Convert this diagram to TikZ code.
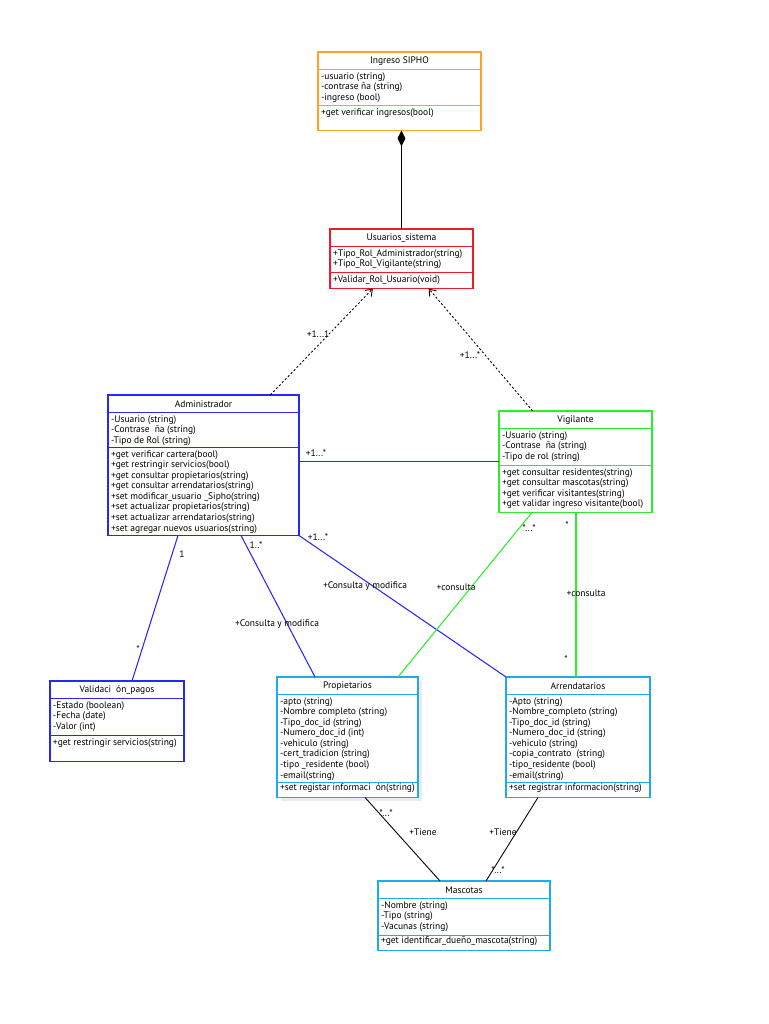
\documentclass[tikz,border=0pt]{standalone}
\usepackage{fontspec}
\setmainfont{PT Sans}
\usetikzlibrary{positioning,calc,arrows.meta,backgrounds}

\definecolor{sipho}{RGB}{255,160,40}
\definecolor{rojo}{RGB}{235,30,40}
\definecolor{azul}{RGB}{40,40,245}
\definecolor{verde}{RGB}{40,240,40}
\definecolor{celeste}{RGB}{30,170,240}

% compartment text: width, height, lines
\newcommand{\cpart}[3]{\parbox[c][\dimexpr#2-0.12cm\relax][t]{\dimexpr#1-0.12cm\relax}{\raggedright#3}}

\begin{document}
\begin{tikzpicture}
        [x=0.02cm,y=-0.02cm,
        every node/.style={font=\fontsize{5.4pt}{6pt}\selectfont},
        titulo/.style={draw=#1,line width=0.8pt,fill=white,inner sep=0pt,outer sep=0pt,minimum height=0.35cm},
        parte/.style={draw=#1,line width=0.8pt,fill=white,inner xsep=0.06cm,inner ysep=0.06cm,outer sep=0pt},
        lbl/.style={inner sep=0pt},
        assoc/.style={line width=0.6pt},
        depend/.style={line width=0.5pt,dash pattern=on 1.2pt off 1.2pt,-{Straight Barb[length=3.5pt,width=5pt]}}]
        \useasboundingbox (0,0) rectangle (768,1024);

        % Ingreso SIPHO
        \node[titulo=sipho,minimum width=3.26cm,anchor=north west] (ing-t) at (318,52) {Ingreso SIPHO};
        \node[parte=sipho,below=0pt of ing-t] (ing-a) {\cpart{3.26cm}{0.72cm}{-usuario (string)\\-contrase ña (string)\\-ingreso (bool)}};
        \node[parte=sipho,below=0pt of ing-a] (ing-m) {\cpart{3.26cm}{0.50cm}{+get verificar ingresos(bool)}};

        % Usuarios_sistema
        \node[titulo=rojo,minimum width=2.86cm,anchor=north west] (us-t) at (330,229) {Usuarios\_sistema};
        \node[parte=rojo,below=0pt of us-t] (us-a) {\cpart{2.86cm}{0.52cm}{+Tipo\_Rol\_Administrador(string)\\+Tipo\_Rol\_Vigilante(string)}};
        \node[parte=rojo,below=0pt of us-a] (us-m) {\cpart{2.86cm}{0.32cm}{+Validar\_Rol\_Usuario(void)}};

        % Administrador
        \node[titulo=azul,minimum width=3.82cm,anchor=north west] (adm-t) at (108,395) {Administrador};
        \node[parte=azul,below=0pt of adm-t] (adm-a) {\cpart{3.82cm}{0.70cm}{-Usuario (string)\\-Contrase\ \ ña (string)\\-Tipo de Rol (string)}};
        \node[parte=azul,below=0pt of adm-a] (adm-m) {\cpart{3.82cm}{1.76cm}{+get verificar cartera(bool)\\+get restringir servicios(bool)\\+get consultar propietarios(string)\\+get consultar arrendatarios(string)\\+set modificar\_usuario \_Sipho(string)\\+set actualizar propietarios(string)\\+set actualizar arrendatarios(string)\\+set agregar nuevos usuarios(string)}};

        % Vigilante
        \node[titulo=verde,minimum width=3.06cm,anchor=north west] (vig-t) at (499,411) {Vigilante};
        \node[parte=verde,below=0pt of vig-t] (vig-a) {\cpart{3.06cm}{0.74cm}{-Usuario (string)\\-Contrase\ \ ña (string)\\-Tipo de rol (string)}};
        \node[parte=verde,below=0pt of vig-a] (vig-m) {\cpart{3.06cm}{0.94cm}{+get consultar residentes(string)\\+get consultar mascotas(string)\\+get verificar visitantes(string)\\+get validar ingreso visitante(bool)}};

        % Validacion_pagos
        \node[titulo=azul,minimum width=2.68cm,anchor=north west] (val-t) at (50,681) {Validaci\ \ ón\_pagos};
        \node[parte=azul,below=0pt of val-t] (val-a) {\cpart{2.68cm}{0.74cm}{-Estado (boolean)\\-Fecha (date)\\-Valor (int)}};
        \node[parte=azul,below=0pt of val-a] (val-m) {\cpart{2.68cm}{0.52cm}{+get restringir servicios(string)}};

        % Propietarios
        \node[titulo=celeste,minimum width=2.82cm,anchor=north west] (prop-t) at (277,677) {Propietarios};
        \node[parte=celeste,below=0pt of prop-t] (prop-a) {\cpart{2.82cm}{1.76cm}{-apto (string)\\-Nombre completo (string)\\-Tipo\_doc\_id (string)\\-Numero\_doc\_id (int)\\-vehiculo (string)\\-cert\_tradicion (string)\\-tipo \_residente (bool)\\-email(string)}};
        \node[parte=celeste,below=0pt of prop-a,inner ysep=0.03cm] (prop-m) {\parbox[c][0.24cm][t]{2.70cm}{+set registar informaci\ \ ón(string)}};

        % Arrendatarios
        \node[titulo=celeste,minimum width=2.88cm,anchor=north west] (arr-t) at (506,677) {Arrendatarios};
        \node[parte=celeste,below=0pt of arr-t] (arr-a) {\cpart{2.88cm}{1.76cm}{-Apto (string)\\-Nombre\_completo (string)\\-Tipo\_doc\_id (string)\\-Numero\_doc\_id (string)\\-vehiculo (string)\\-copia\_contrato\ \ (string)\\-tipo\_residente (bool)\\-email(string)}};
        \node[parte=celeste,below=0pt of arr-a,inner ysep=0.03cm] (arr-m) {\parbox[c][0.24cm][t]{2.76cm}{+set registrar informacion(string)}};

        % Mascotas
        \node[titulo=celeste,minimum width=3.44cm,anchor=north west] (masc-t) at (378,881) {Mascotas};
        \node[parte=celeste,below=0pt of masc-t] (masc-a) {\cpart{3.44cm}{0.74cm}{-Nombre (string)\\-Tipo (string)\\-Vacunas (string)}};
        \node[parte=celeste,below=0pt of masc-a,inner ysep=0.03cm] (masc-m) {\parbox[c][0.24cm][t]{3.32cm}{+get identificar\_dueño\_mascota(string)}};

        \begin{pgfonlayer}{background}
          \fill[white] (0,0) rectangle (768,1024);
          \fill[gray!15] ($(prop-t.north west)+(4,4)$) rectangle ($(prop-m.south east)+(4,4)$);
        \end{pgfonlayer}

        % connectors
        \draw[line width=0.5pt,-{Diamond[length=9pt,width=4.5pt]}] (us-t.north) -- (us-t.north |- ing-m.south);
        \draw[depend] ($(adm-t.north west)!0.85!(adm-t.north east)$) -- ($(us-m.south west)!0.30!(us-m.south east)$);
        \draw[depend] ($(vig-t.north west)!0.22!(vig-t.north east)$) -- ($(us-m.south west)!0.69!(us-m.south east)$);
        \draw[assoc,azul] ($(adm-m.north east)+(0,14)$) coordinate (admr) -- (admr -| vig-a.west);
        \draw[assoc,azul] ($(adm-m.south west)+(70,0)$) -- ($(val-t.north west)+(82,0)$);
        \draw[assoc,azul] ($(adm-m.south west)+(133,0)$) -- ($(prop-t.north west)+(38,0)$);
        \draw[assoc,azul] (adm-m.south east) -- (arr-t.north west);
        \draw[assoc,verde] ($(vig-m.south west)+(33,0)$) -- ($(prop-t.north west)+(121,0)$);
        \draw[assoc,verde] ($(vig-m.south west)+(77,0)$) coordinate (vigb) -- (vigb |- arr-t.north);
        \draw[line width=0.5pt] ($(prop-m.south west)+(88,0)$) -- ($(masc-t.north west)+(62,0)$);
        \draw[line width=0.5pt] ($(arr-m.south west)+(32,0)$) -- ($(masc-t.north west)+(108,0)$);

        % multiplicities and roles
        \node[lbl] (m1) at (318,334) {+1...1};
        \node[lbl] (m2) at (470,355) {+1...*};
        \node[lbl] (m3) at (316,453) {+1...*};
        \node[lbl] (m4) at (182,554) {1};
        \node[lbl] (m5) at (138,649) {*};
        \node[lbl] (m6) at (256,545) {1..*};
        \node[lbl] (m7) at (318,537) {+1...*};
        \node[lbl] (r1) at (365,586) {+Consulta y modifica};
        \node[lbl] (r2) at (277,624) {+Consulta y modifica};
        \node[lbl] (m8) at (529,528) {*...*};
        \node[lbl] (r3) at (456,587) {+consulta};
        \node[lbl] (m9) at (567,525) {*};
        \node[lbl] (r4) at (586,593) {+consulta};
        \node[lbl] (m10) at (566,659) {*};
        \node[lbl] (m11) at (386,813) {*...*};
        \node[lbl] (r5) at (423,832) {+Tiene};
        \node[lbl] (r6) at (503,832) {+Tiene};
        \node[lbl] (m12) at (498,870) {*...*};
      \end{tikzpicture}
\end{document}
